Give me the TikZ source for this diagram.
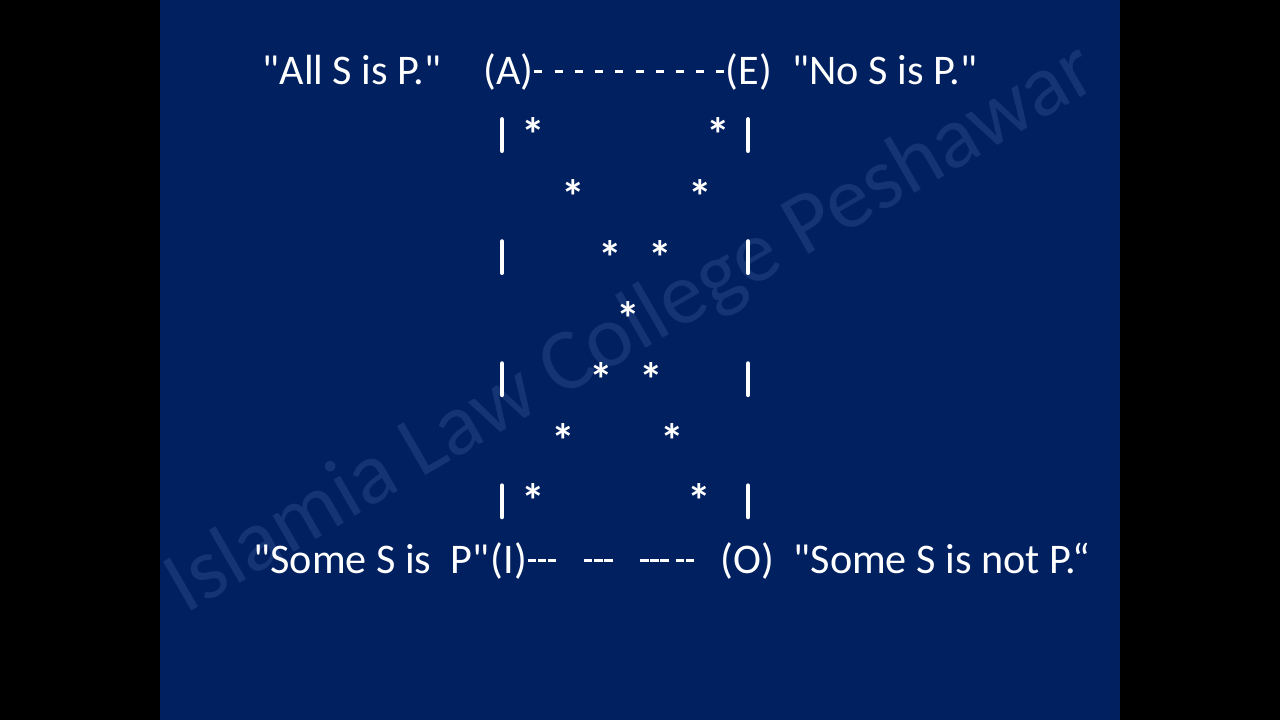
\documentclass[tikz,border=0pt]{standalone}
\usepackage{fontspec}
\setmainfont{Carlito}[Ligatures=TeXOff]
\definecolor{slideblue}{RGB}{0,32,96}
\definecolor{markblue}{RGB}{20,52,116}
\tikzset{
  word/.style={text=white,inner sep=0pt,anchor=base west,font=\fontsize{12}{14}\selectfont},
  star/.style={text=white,inner sep=0pt,anchor=north,font=\fontsize{13.5}{16}\selectfont\bfseries},
  watermark/.style={text=markblue,inner sep=0pt,rotate=30,font=\fontsize{25}{28}\selectfont},
  contrary/.style={white,line width=0.85pt,dash pattern=on 2.28pt off 3.47pt},
  subcontrary/.style={white,line width=0.8pt,
    dash pattern=on 2.42pt off 0.43pt on 2.42pt off 0.43pt on 2.42pt off 7.9pt
                 on 2.42pt off 0.43pt on 2.42pt off 0.43pt on 2.42pt off 7.9pt
                 on 2.42pt off 0.43pt on 2.42pt off 0.43pt on 2.42pt off 2pt
                 on 2.42pt off 0.43pt on 2.42pt off 100pt},
  subaltern/.style={white,line width=1.4pt,line cap=round,dash pattern=on 8.82pt off 25.9pt}
}

\begin{document}
\begin{tikzpicture}[x=0.01cm,y=-0.01cm]

    % -- Slide background with black side bars --
    \fill[black] (0,0) rectangle (1280,720);
    \fill[slideblue] (160,0) rectangle (1120,720);
    \useasboundingbox (0,0) rectangle (1280,720);

    % -- Faint watermark across the slide --
    \node[watermark] (mark) at (632,330) {Islamia Law College Peshawar};

    % -- Top row: A and E propositions --
    \node[word] (A) at (483,84) {(A)};
    \node[word] (E) at (725,84) {(E)};
    \node[word] (Atext) at (262,84) {"All S is P."};
    \node[word] (Etext) at (792,84) {"No S is P."};

    % -- Bottom row: I and O propositions --
    \node[word] (I) at (490,573) {(I)};
    \node[word] (O) at (720,573) {(O)};
    \node[word,anchor=base east] (Itext) at (I.base west) {"Some S is\ \ P"};
    \node[word] (Otext) at (793,573) {"Some S is not P.“};

    % -- Contraries and subcontraries (dashed) --
    \draw[contrary] (A.east) -- (E.west);
    \draw[subcontrary] (I.east) -- (O.west);

    % -- Subalterns (broken vertical bars) --
    \coordinate (AItop) at (502,119.5);
    \coordinate (AIbot) at (502,518);
    \coordinate (EOtop) at (748,119.5);
    \coordinate (EObot) at (748,518);
    \draw[subaltern] (AItop) -- (AIbot);
    \draw[subaltern] (EOtop) -- (EObot);

    % -- Contradictories (rows of stars crossing in the middle) --
    \foreach \sx/\sy [count=\k] in {533/117,718/117,573/179,700/179,610/240,660/240,
        628/301,601/362,651/362,563/423,672/423,533/483,699/483}
      \node[star] (star\k) at (\sx,\sy) {*};

\end{tikzpicture}
\end{document}
